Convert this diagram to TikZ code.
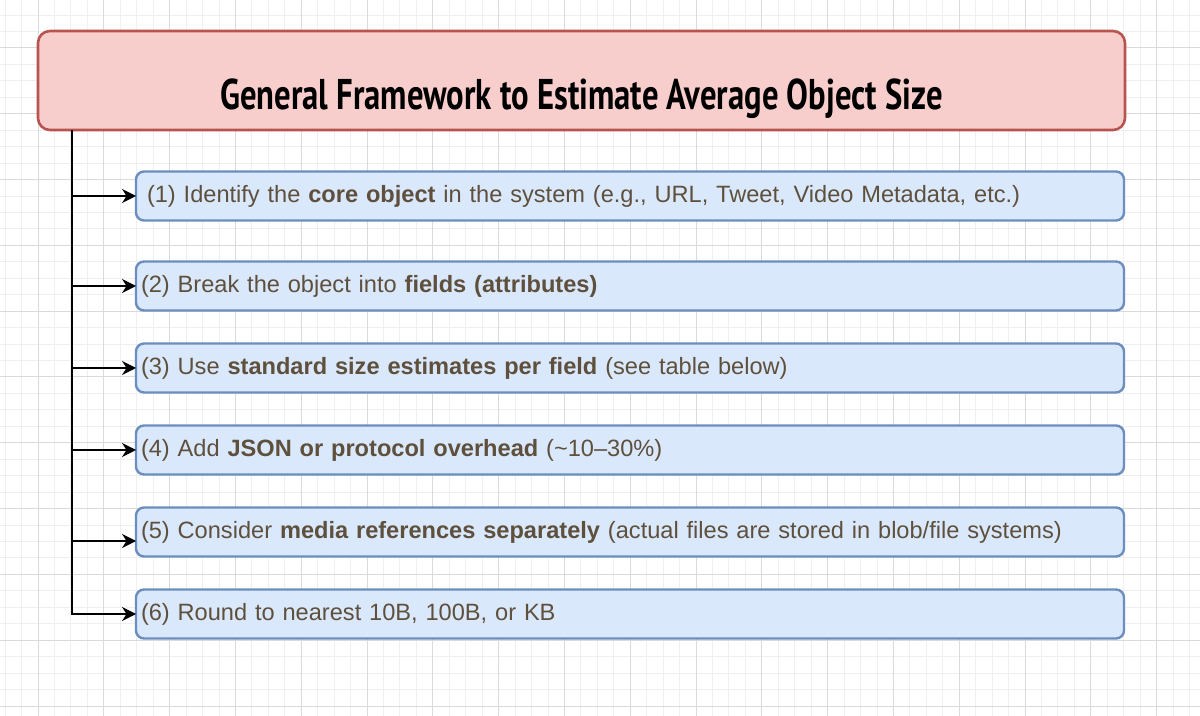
\documentclass[tikz,border=0pt]{standalone}
\usepackage{fontspec}
\setmainfont{Liberation Sans}
\newfontfamily\titlefont[FakeStretch=0.76]{PT Sans}
\usepackage{tikz}
\usetikzlibrary{positioning,arrows.meta}

\definecolor{redfill}{HTML}{F8CECC}
\definecolor{reddraw}{HTML}{B85450}
\definecolor{bluefill}{HTML}{DAE8FC}
\definecolor{bluedraw}{HTML}{6C8EBF}
\definecolor{steptext}{RGB}{94,80,60}
\definecolor{gridminor}{HTML}{EFEFEF}
\definecolor{gridmajor}{HTML}{DADADA}

\begin{document}
\begin{tikzpicture}[x=0.5pt, y=-0.5pt, node distance={16.5pt},
    head/.style = {draw=reddraw, fill=redfill, line width=1.3pt, rounded corners=6pt,
      minimum width=543.5pt, minimum height=49.5pt, outer sep=0pt},
    stepbox/.style = {draw=bluedraw, fill=bluefill, line width=1.2pt, rounded corners=4pt,
      minimum height=24.5pt, text width=489pt, inner xsep=2.5pt, inner ysep=0pt,
      outer sep=0pt, align=left, text=steptext, font=\fontsize{11.8}{14}\selectfont},
    link/.style = {line width=0.7pt, -{Stealth[length=7pt,width=7pt]}}]
          \useasboundingbox (0,0) rectangle (1200,716);
          % Background grid
          \fill[white] (0,0) rectangle (1200,716);
          \foreach \i in {0,...,72} \draw[gridminor, line width=0.5pt] ({5.15+16.45*\i},0) -- ({5.15+16.45*\i},716);
          \foreach \i in {0,...,42} \draw[gridminor, line width=0.5pt] (0,{15.1+16.45*\i}) -- (1200,{15.1+16.45*\i});
          \foreach \i in {0,...,17} \draw[gridmajor, line width=0.5pt] ({38+65.8*\i},0) -- ({38+65.8*\i},716);
          \foreach \i in {0,...,10} \draw[gridmajor, line width=0.5pt] (0,{48+65.8*\i}) -- (1200,{48+65.8*\i});
          % Define nodes
          \node[head] (title) at (581.5,80.5) {};
          \node (titletext) [anchor=base, font=\titlefont\bfseries\fontsize{21.5}{26}\selectfont]
            at ([yshift=-14.75pt]title.center) {General Framework to Estimate Average Object Size};
          \node[stepbox, anchor=west] (s1) at (136,196) {\hspace*{3pt}(1) Identify the \textbf{core object} in the system (e.g., URL, Tweet, Video Metadata, etc.)};
          \node[stepbox] (s2) [below=20.5pt of s1] {(2) Break the object into \textbf{fields (attributes)}};
          \node[stepbox] (s3) [below=of s2] {(3) Use \textbf{standard size estimates per field} (see table below)};
          \node[stepbox] (s4) [below=of s3] {(4) Add \textbf{JSON or protocol overhead} (\textasciitilde10–30\%)};
          \node[stepbox] (s5) [below=of s4] {(5) Consider \textbf{media references separately} (actual files are stored in blob/file systems)};
          \node[stepbox] (s6) [below=of s5] {(6) Round to nearest 10B, 100B, or KB};
          % Add edges
          \coordinate (trunk) at (72,130);
          \draw[link] (trunk) |- (s6.west);
          \draw[link] (trunk |- s1.west) -- (s1.west);
          \draw[link] (trunk |- s2.west) -- (s2.west);
          \draw[link] (trunk |- s3.west) -- (s3.west);
          \draw[link] (trunk |- s4.west) -- (s4.west);
          \draw[link] ([yshift=-4.5pt]trunk |- s5.west) -- ([yshift=-4.5pt]s5.west);
        \end{tikzpicture}
\end{document}
